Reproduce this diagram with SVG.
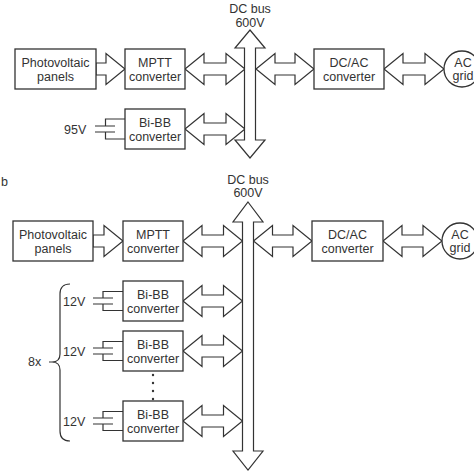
<svg xmlns="http://www.w3.org/2000/svg" width="474" height="474" viewBox="0 0 474 474">
<style>
.box{fill:#fff;stroke:#333;stroke-width:1.3}
.arr{fill:#fff;stroke:#333;stroke-width:1.2;stroke-linejoin:miter}
.ln{fill:none;stroke:#333;stroke-width:1.2}
text{font-family:"Liberation Sans",Arial,sans-serif;font-size:12.5px;fill:#333}
.c{text-anchor:middle}
</style>
<rect width="474" height="474" fill="#fff"/>
<g id="connectors">
<polygon class="arr" points="96,63 106,63 106,53.5 125,69 106,84.5 106,75 96,75"/>
<polygon class="arr" points="185,69 204,53.5 204,63 226,63 226,53.5 245,69 226,84.5 226,75 204,75 204,84.5"/>
<polygon class="arr" points="185,129 204,113.5 204,123 226,123 226,113.5 245,129 226,144.5 226,135 204,135 204,144.5"/>
<polygon class="arr" points="256,69 275,53.5 275,63 295,63 295,53.5 314,69 295,84.5 295,75 275,75 275,84.5"/>
<polygon class="arr" points="384,69 403,53.5 403,63 425,63 425,53.5 444,69 425,84.5 425,75 403,75 403,84.5"/>
<path class="ln" d="M125,119H105.5V126M95,126H115M95,132H115M105.5,132V139H125"/>
<polygon class="arr" points="93,235 104,235 104,225.5 123,241 104,256.5 104,247 93,247"/>
<polygon class="arr" points="183,241 202,225.5 202,235 223.5,235 223.5,225.5 242.5,241 223.5,256.5 223.5,247 202,247 202,256.5"/>
<polygon class="arr" points="183,301 202,285.5 202,295 223.5,295 223.5,285.5 242.5,301 223.5,316.5 223.5,307 202,307 202,316.5"/>
<polygon class="arr" points="183,351 202,335.5 202,345 223.5,345 223.5,335.5 242.5,351 223.5,366.5 223.5,357 202,357 202,366.5"/>
<polygon class="arr" points="183,421 202,405.5 202,415 223.5,415 223.5,405.5 242.5,421 223.5,436.5 223.5,427 202,427 202,436.5"/>
<polygon class="arr" points="253.5,241 272.5,225.5 272.5,235 293,235 293,225.5 312,241 293,256.5 293,247 272.5,247 272.5,256.5"/>
<polygon class="arr" points="383,241 402,225.5 402,235 423,235 423,225.5 442,241 423,256.5 423,247 402,247 402,256.5"/>
<path class="ln" d="M123,291.5H103V298M93,298H113M93,304H113M103,304V310.5H123"/>
<path class="ln" d="M123,341.5H103V348M93,348H113M93,354H113M103,354V360.5H123"/>
<path class="ln" d="M123,411.5H103V418M93,418H113M93,424H113M103,424V430.5H123"/>
</g>
<g id="bus-top">
<polygon class="arr" points="250,30 265,48 255.5,48 255.5,140 265,140 250,158 235,140 244.5,140 244.5,48 235,48"/>
<text class="c" x="250" y="13">DC bus</text>
<text class="c" x="250" y="27">600V</text>
</g>
<g id="pv-top"><rect class="box" x="15" y="49" width="81" height="40"/><text class="c" x="55.5" y="66.5">Photovoltaic</text><text class="c" x="55.5" y="80.5">panels</text></g>
<g id="mptt-top"><rect class="box" x="125" y="49" width="60" height="40"/><text class="c" x="155" y="66.5">MPTT</text><text class="c" x="155" y="80.5">converter</text></g>
<g id="bibb-top"><rect class="box" x="125" y="109" width="60" height="40"/><text class="c" x="155" y="126.5">Bi-BB</text><text class="c" x="155" y="140.5">converter</text></g>
<g id="v95"><text x="64" y="133.5">95V</text></g>
<g id="dcac-top"><rect class="box" x="314" y="49" width="70" height="40"/><text class="c" x="349" y="66.5">DC/AC</text><text class="c" x="349" y="80.5">converter</text></g>
<g id="grid-top"><circle class="box" cx="462" cy="69" r="18"/><text class="c" x="463" y="67">AC</text><text class="c" x="463" y="80">grid</text></g>

<g id="label-b"><text x="1" y="186">b</text></g>
<g id="bus-bottom">
<polygon class="arr" points="248,202 263,222 253.5,222 253.5,451 263,451 248,470 233,451 242.5,451 242.5,222 233,222"/>
<text class="c" x="248" y="184">DC bus</text>
<text class="c" x="248" y="197">600V</text>
</g>
<g id="pv-bottom"><rect class="box" x="13" y="221" width="80" height="40"/><text class="c" x="53" y="238.5">Photovoltaic</text><text class="c" x="53" y="252.5">panels</text></g>
<g id="mptt-bottom"><rect class="box" x="123" y="221" width="60" height="40"/><text class="c" x="153" y="238.5">MPTT</text><text class="c" x="153" y="252.5">converter</text></g>
<g id="dcac-bottom"><rect class="box" x="312" y="221" width="71" height="40"/><text class="c" x="347.5" y="238.5">DC/AC</text><text class="c" x="347.5" y="252.5">converter</text></g>
<g id="grid-bottom"><circle class="box" cx="460" cy="241" r="18"/><text class="c" x="460" y="239">AC</text><text class="c" x="460" y="252">grid</text></g>
<g id="bibb-1"><rect class="box" x="123" y="281" width="60" height="40"/><text class="c" x="153" y="298.5">Bi-BB</text><text class="c" x="153" y="312.5">converter</text></g>
<g id="bibb-2"><rect class="box" x="123" y="331" width="60" height="40"/><text class="c" x="153" y="348.5">Bi-BB</text><text class="c" x="153" y="362.5">converter</text></g>
<g id="bibb-3"><rect class="box" x="123" y="401" width="60" height="40"/><text class="c" x="153" y="418.5">Bi-BB</text><text class="c" x="153" y="432.5">converter</text></g>
<g id="v12"><text x="63" y="305.5">12V</text><text x="63" y="355.5">12V</text><text x="63" y="425.5">12V</text></g>
<g id="dots" fill="#333"><circle cx="153" cy="375" r="1.2"/><circle cx="153" cy="383" r="1.2"/><circle cx="153" cy="391" r="1.2"/><circle cx="153" cy="399" r="1.2"/></g>
<g id="brace">
<path class="ln" d="M70,284Q60,284 60,294V354Q60,362 52,362Q60,362 60,370V431Q60,441 70,441M49,362H53"/>
<text x="28" y="366">8x</text>
</g>
</svg>
